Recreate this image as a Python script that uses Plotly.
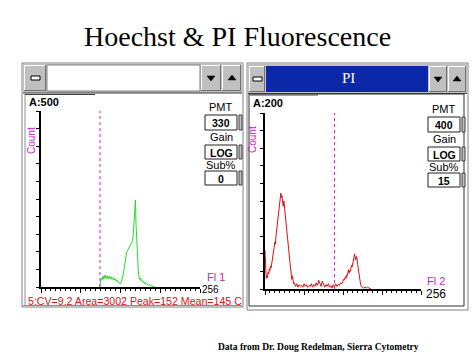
import plotly.graph_objects as go

W, H = 474, 355

# ---------------- data ----------------
hoechst_channel = list(range(94, 185))
hoechst_count = [0, 6, 16, 24, 20, 27, 31, 22, 29, 34,
                 25, 30, 27, 32, 23, 29, 26, 31, 24, 28,
                 22, 27, 24, 20, 25, 19, 22, 17, 20, 15,
                 16, 12, 10, 11, 9, 14, 18, 25, 32, 44,
                 58, 71, 82, 92, 99, 103, 106, 109, 111, 114,
                 117, 120, 126, 132, 140, 160, 196, 238, 247, 178,
                 128, 80, 50, 36, 27, 22, 25, 18, 21, 15,
                 17, 12, 14, 10, 12, 8, 10, 7, 8, 5,
                 7, 4, 5, 3, 4, 2, 3, 1, 2, 1, 0]

pi_channel = [0, 1, 2, 3, 4, 5, 6, 7, 8, 9, 10, 11, 12, 13, 14, 15, 16, 17, 18, 19,
              20, 21, 22, 23, 24, 25, 26, 27, 28, 29, 30, 31, 32, 33, 34, 35, 36, 37, 38, 39,
              40, 41, 42, 43, 44, 45, 46, 47, 48, 49, 50, 52, 54, 56, 58, 60, 62, 64, 66, 68,
              70, 72, 74, 76, 78, 80, 82, 84, 86, 88, 90, 92, 94, 96, 98, 100, 102, 104, 106, 108,
              110, 112, 114, 116, 118, 120, 122, 124, 126, 128, 129, 130, 131, 132, 133, 134, 135, 136, 137, 138,
              139, 140, 141, 142, 143, 144, 145, 146, 147, 148, 149, 150, 151, 152, 153, 154, 155, 156, 157, 158,
              160, 162, 164, 166, 168, 170, 172, 174]
pi_count = [44, 30, 12, 15, 13, 19, 17, 23, 21, 26, 24, 28, 31, 35, 40, 47, 53, 51, 60, 66,
            74, 79, 84, 90, 98, 103, 109, 104, 106, 98, 94, 100, 92, 88, 83, 76, 68, 61, 52, 44,
            36, 30, 24, 16, 11, 15, 8, 6, 7, 4, 3, 6, 2, 5, 3, 4, 2, 6, 3, 5,
            2, 4, 3, 6, 2, 5, 3, 7, 4, 10, 5, 3, 9, 4, 2, 5, 3, 6, 2, 4,
            1, 5, 2, 6, 3, 5, 4, 7, 6, 9, 11, 10, 13, 14, 12, 16, 15, 19, 22, 18,
            21, 20, 24, 27, 25, 30, 31, 35, 40, 36, 33, 37, 35, 28, 23, 17, 12, 8, 5, 3,
            2, 1, 2, 1, 2, 1, 1, 0]

hoechst_gate = 95
pi_gate = 114
left_stats = "5:CV=9.2 Area=3002 Peak=152 Mean=145 C"

# ---------------- helpers ----------------
def X(px):
    return px / W

def Y(py):
    return 1 - py / H

shapes = []
annotations = []

def rect(x0, y0, x1, y1, fill=None, line=None, lw=1):
    shapes.append(dict(type="rect", xref="paper", yref="paper",
                       x0=X(x0), x1=X(x1), y0=Y(y1), y1=Y(y0),
                       fillcolor=fill if fill else "rgba(0,0,0,0)",
                       line=dict(color=line if line else "rgba(0,0,0,0)", width=lw if line else 0),
                       layer="below"))

def hline(x0, x1, y, color, lw=1):
    shapes.append(dict(type="line", xref="paper", yref="paper",
                       x0=X(x0), x1=X(x1), y0=Y(y), y1=Y(y),
                       line=dict(color=color, width=lw), layer="below"))

def vline(x, y0, y1, color, lw=1):
    shapes.append(dict(type="line", xref="paper", yref="paper",
                       x0=X(x), x1=X(x), y0=Y(y0), y1=Y(y1),
                       line=dict(color=color, width=lw), layer="below"))

def bevel(x0, y0, x1, y1, fill="#c0c0c0"):
    rect(x0, y0, x1, y1, fill=fill)
    hline(x0, x1, y0 + 0.5, "#ffffff")
    vline(x0 + 0.5, y0, y1, "#ffffff")
    hline(x0, x1, y1 - 0.5, "#707070")
    vline(x1 - 0.5, y0, y1, "#707070")

def tri(pts, color="black"):
    p = "M " + " L ".join(f"{X(a):.5f},{Y(b):.5f}" for a, b in pts) + " Z"
    shapes.append(dict(type="path", xref="paper", yref="paper", path=p,
                       fillcolor=color, line=dict(color=color, width=0.5), layer="below"))

def text(x, y, s, size=11, color="black", family="Liberation Sans", xa="left", ya="middle",
         angle=0, bold=False):
    annotations.append(dict(x=X(x), y=Y(y), xref="paper", yref="paper", text=s,
                            showarrow=False, xanchor=xa, yanchor=ya, textangle=angle,
                            font=dict(size=size, color=color, family=family,
                                      weight="bold" if bold else "normal")))

def side_panel(x0, pmt, gain, sub, dy=0):
    # PMT / Gain / Sub% controls
    text(x0 + 16, 108 + dy, "PMT", size=11, xa="center")
    rect(x0, 116 + dy, x0 + 32, 131 + dy, fill="white", line="#202020")
    text(x0 + 16, 124 + dy, pmt, size=10.5, xa="center", bold=True)
    rect(x0 + 34, 116 + dy, x0 + 37, 131 + dy, fill="#c0c0c0", line="#404040")
    text(x0 + 16, 138.5 + dy, "Gain", size=11, xa="center")
    rect(x0, 146 + dy, x0 + 32, 160 + dy, fill="white", line="#202020")
    text(x0 + 16, 153.5 + dy, gain, size=10.5, xa="center", bold=True)
    rect(x0 + 34, 146 + dy, x0 + 37, 160 + dy, fill="#c0c0c0", line="#404040")
    text(x0 + 16, 165.5 + dy, "Sub%", size=11, xa="center")
    rect(x0, 172 + dy, x0 + 32, 186 + dy, fill="white", line="#202020")
    text(x0 + 16, 179.5 + dy, sub, size=10.5, xa="center", bold=True)
    rect(x0 + 34, 172 + dy, x0 + 37, 186 + dy, fill="#c0c0c0", line="#404040")

# ---------------- left window ----------------
rect(22, 63, 243, 307, fill="white", line="#808080")
rect(23, 64, 242, 93, fill="#c0c0c0")
rect(47, 65, 200, 91, fill="white", line="#808080")
bevel(24, 65, 46, 91)
rect(31, 76, 40, 80, fill="white", line="black")
bevel(201, 65, 221, 91)
tri([(207, 76), (215, 76), (211, 81)])
bevel(222, 65, 241, 91)
tri([(228, 80), (236, 80), (232, 75)])
hline(23, 242, 93, "#404040")
vline(25, 93, 305, "#909090")
hline(25, 95, 94.5, "#404040")
hline(23, 242, 305.5, "#909090")

text(27, 102, "A:500", size=11, bold=True)
text(32, 140, "Count", size=10, color="#cc22cc", xa="center", angle=-90)
text(205, 277, "Fl 1", size=11, color="#cc22cc")
text(200, 289.5, "256", size=10)
text(26, 300.5, left_stats, size=10.6, color="#dd1111")
side_panel(205, "330", "LOG", "0", dy=-1)

# ---------------- right window ----------------
rect(247, 63, 468, 310, fill="white", line="#808080")
rect(248, 64, 467, 93, fill="#c0c0c0")
bevel(249, 66, 265, 92)
rect(253, 77, 262, 81, fill="white", line="black")
rect(266, 66, 428, 92, fill="#0a28a8")
bevel(429, 66, 447, 92)
tri([(434, 77), (442, 77), (438, 82)])
bevel(448, 66, 466, 92)
tri([(453, 81), (461, 81), (457, 76)])
hline(248, 467, 93.5, "#404040")
rect(249, 94, 464, 306, line="#303030")
hline(250, 318, 95, "#404040")

text(348, 78, "PI", size=15, color="white", family="Liberation Serif", xa="center")
text(251, 103, "A:200", size=11, bold=True)
text(253, 140, "Count", size=10, color="#cc22cc", xa="center", angle=-90)
text(425, 281, "Fl 2", size=11, color="#cc22cc")
text(424, 294, "256", size=12)
side_panel(428, "400", "LOG", "15", dy=1)

# ---------------- slide texts ----------------
text(237, 37, "Hoechst &amp; PI Fluorescence", size=28, family="Liberation Serif", xa="center")
text(318, 347, "Data from Dr. Doug Redelman, Sierra Cytometry", size=9.5,
     family="Liberation Serif", xa="center", bold=True)

# gate lines
shapes.append(dict(type="line", xref="x", yref="y", x0=hoechst_gate, x1=hoechst_gate, y0=0, y1=500,
                   line=dict(color="#cc22cc", width=1, dash="dot")))
shapes.append(dict(type="line", xref="x2", yref="y2", x0=pi_gate, x1=pi_gate, y0=0, y1=200,
                   line=dict(color="#cc22cc", width=1, dash="dot")))

fig = go.Figure()
fig.add_trace(go.Scatter(x=hoechst_channel, y=hoechst_count, mode="lines",
                         line=dict(color="#22dd22", width=1), xaxis="x", yaxis="y",
                         hoverinfo="skip", showlegend=False))
fig.add_trace(go.Scatter(x=pi_channel, y=pi_count, mode="lines",
                         line=dict(color="#dd1111", width=1), xaxis="x2", yaxis="y2",
                         hoverinfo="skip", showlegend=False))

def xax(dom, anchor):
    return dict(domain=dom, range=[0, 256], anchor=anchor, showline=True, linecolor="black",
                linewidth=2, ticks="outside", ticklen=4, tickwidth=1, tickcolor="black",
                tick0=0, dtick=64, showticklabels=False, showgrid=False, zeroline=False,
                minor=dict(ticks="outside", ticklen=2, tickwidth=1, tickcolor="black",
                           dtick=8, showgrid=False),
                fixedrange=True)

def yax(dom, anchor, top):
    return dict(domain=dom, range=[0, top], anchor=anchor, showline=True, linecolor="black",
                linewidth=2, ticks="outside", ticklen=3, tickwidth=1, tickcolor="black",
                tick0=0, dtick=top / 10, showticklabels=False, showgrid=False, zeroline=False,
                fixedrange=True)

fig.update_layout(
    width=W, height=H, margin=dict(l=0, r=0, t=0, b=0),
    paper_bgcolor="white", plot_bgcolor="rgba(0,0,0,0)",
    showlegend=False,
    xaxis=xax([X(41), X(200)], "y"),
    yaxis=yax([Y(287), Y(111)], "x", 500),
    xaxis2=xax([X(265), X(421)], "y2"),
    yaxis2=yax([Y(289), Y(113)], "x2", 200),
    shapes=shapes, annotations=annotations,
)

fig.write_html("out.html")
